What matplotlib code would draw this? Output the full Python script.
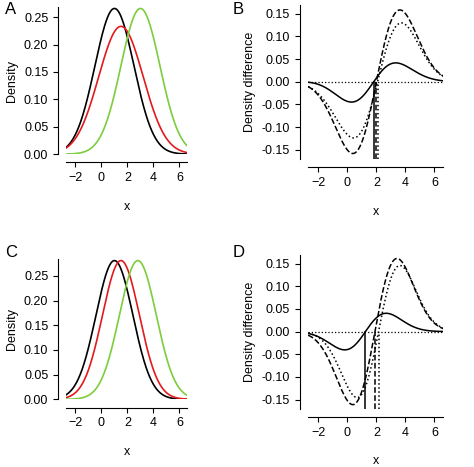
import matplotlib
matplotlib.use("Agg")
import matplotlib.pyplot as plt
import numpy as np

plt.rcParams['font.family'] = ['Liberation Sans', 'DejaVu Sans']
plt.rcParams['font.size'] = 9

# normal distribution parameters (black, red, green)
top_means = [1.0, 1.5, 3.0]
top_sds = [1.5, 1.71, 1.5]
bot_means = [1.0, 1.5, 2.8]
bot_sds = [1.42, 1.42, 1.42]
# amplitude of the difference curves relative to the plain pdf difference
# (solid red-black, dashed green-black, dotted green-red)
top_diff_scale = [0.8, 0.85, 0.95]
bot_diff_scale = [0.68, 0.85, 1.0]
colors = ["black", "#e31a1c", "#7ccd3c"]
x_range = (-2.7, 6.6)
dens_ticks = [0.00, 0.05, 0.10, 0.15, 0.20, 0.25]
diff_ticks = [-0.15, -0.10, -0.05, 0.00, 0.05, 0.10, 0.15]
x_ticks = [-2, 0, 2, 4, 6]


def norm_pdf(x, m, s):
    return np.exp(-0.5 * ((x - m) / s) ** 2) / (s * np.sqrt(2 * np.pi))


def r_style(ax):
    for side in ("top", "right"):
        ax.spines[side].set_visible(False)
    ax.spines["left"].set_position(("outward", 6))
    ax.spines["bottom"].set_position(("outward", 6))
    ax.set_xticks(x_ticks)
    ax.set_xlabel("x", labelpad=12)


def density_panel(ax, means, sds, letter, ly):
    x = np.linspace(*x_range, 400)
    for m, s, c in zip(means, sds, colors):
        ax.plot(x, norm_pdf(x, m, s), color=c, lw=1.2)
    ax.set_xlim(*x_range)
    ax.set_ylim(0, max(norm_pdf(m, m, s) for m, s in zip(means, sds)) * 1.01)
    ax.set_yticks(dens_ticks)
    ax.set_yticklabels([f"{t:.2f}" for t in dens_ticks])
    ax.set_ylabel("Density")
    r_style(ax)
    fig.text(0.01, ly, letter, fontsize=12, va="top")


def diff_panel(ax, means, sds, scales, letter, lx, ly):
    x = np.linspace(*x_range, 2000)
    d = [norm_pdf(x, m, s) for m, s in zip(means, sds)]
    pairs = [(1, 0, "-"), (2, 0, "--"), (2, 1, ":")]
    ylo = -0.17
    for (i, j, ls), sc in zip(pairs, scales):
        y = (d[i] - d[j]) * sc
        ax.plot(x, y, color="black", ls=ls, lw=1.1)
        lo, hi = sorted((means[i], means[j]))
        mask = (x >= lo - 0.5) & (x <= hi + 0.5)
        xs, ys = x[mask], y[mask]
        k = np.where(np.diff(np.sign(ys)) != 0)[0]
        if len(k):
            xc = xs[k[0]]
            ax.plot([xc, xc], [ylo, 0], color="black", ls=ls, lw=1.1)
    ax.axhline(0, color="black", ls=":", lw=0.9)
    ax.set_xlim(*x_range)
    ax.set_ylim(ylo, 0.17)
    ax.set_yticks(diff_ticks)
    ax.set_yticklabels([f"{t:.2f}" for t in diff_ticks])
    ax.set_ylabel("Density difference")
    r_style(ax)
    fig.text(lx, ly, letter, fontsize=12, va="top")


fig = plt.figure(figsize=(4.74, 4.67), dpi=100)
axA = fig.add_axes([0.14, 0.670, 0.255, 0.315])
axB = fig.add_axes([0.650, 0.660, 0.285, 0.330])
axC = fig.add_axes([0.14, 0.145, 0.255, 0.300])
axD = fig.add_axes([0.650, 0.125, 0.285, 0.330])

density_panel(axA, top_means, top_sds, "A", 0.995)
diff_panel(axB, top_means, top_sds, top_diff_scale, "B", 0.49, 0.995)
density_panel(axC, bot_means, bot_sds, "C", 0.475)
diff_panel(axD, bot_means, bot_sds, bot_diff_scale, "D", 0.49, 0.475)

fig.savefig("out.png", dpi=100)
